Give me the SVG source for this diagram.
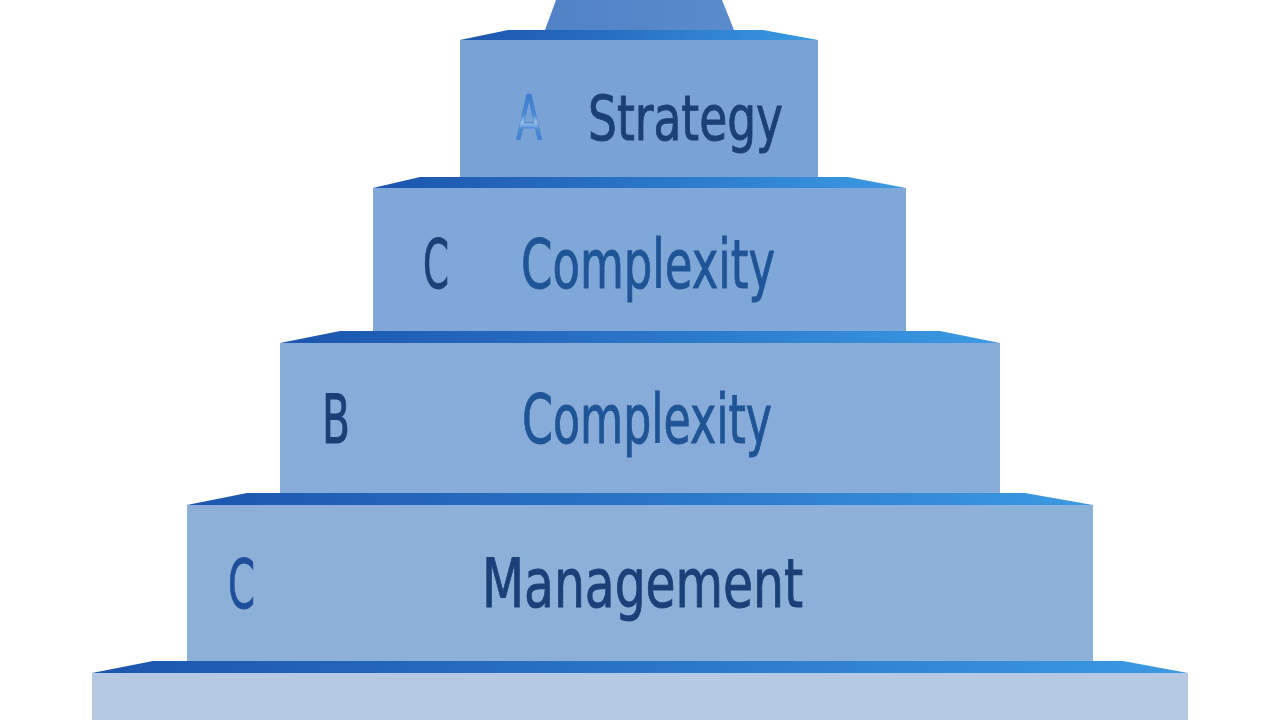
<svg xmlns="http://www.w3.org/2000/svg" width="1280" height="720" viewBox="0 0 1280 720">
  <defs>
    <linearGradient id="strip" x1="0" y1="0" x2="1" y2="0">
      <stop offset="0" stop-color="#1c55ae"/>
      <stop offset="0.5" stop-color="#2a74c6"/>
      <stop offset="1" stop-color="#3b9ae2"/>
    </linearGradient>
    <linearGradient id="peak" x1="0" y1="0" x2="1" y2="0">
      <stop offset="0" stop-color="#5282c6"/>
      <stop offset="1" stop-color="#5a8bcb"/>
    </linearGradient>
    <linearGradient id="letterA" x1="0" y1="0" x2="0" y2="1">
      <stop offset="0" stop-color="#3574cc"/>
      <stop offset="0.45" stop-color="#4c8ad6"/>
      <stop offset="0.55" stop-color="#9fc2ea"/>
      <stop offset="0.65" stop-color="#4c8ad6"/>
      <stop offset="1" stop-color="#3574cc"/>
    </linearGradient>
  </defs>
  <style>
    .strip { fill: url(#strip); }
    .t1 { fill: #79a2d6; }
    .t2 { fill: #7fa7d8; }
    .t3 { fill: #88acd9; }
    .t4 { fill: #8db0d9; }
    .t5 { fill: #b5c9e2; }
    .lbl { font-family: "DejaVu Sans Condensed", "DejaVu Sans", "Liberation Sans Narrow", sans-serif; font-stretch: condensed; fill: #1b4078; stroke: #1b4078; stroke-width: 0.9; }
    .blue { fill: #1f5597; stroke: #1f5597; }
  </style>
  <rect width="1280" height="720" fill="#ffffff"/>

  <g id="peak-top">
    <polygon points="556,0 722,0 734,30 545,30" fill="url(#peak)"/>
  </g>

  <g id="tier-strategy">
    <polygon class="strip" points="508,30 763,30 818,40 460,40"/>
    <rect class="t1" x="460" y="40" width="358" height="138"/>
    <text class="lbl" x="516" y="140" font-size="62" textLength="26" lengthAdjust="spacingAndGlyphs" style="fill:url(#letterA);stroke:#3a7acd;stroke-width:0.6">A</text>
    <text class="lbl" x="588" y="140" font-size="62" textLength="195" lengthAdjust="spacingAndGlyphs">Strategy</text>
  </g>

  <g id="tier-complexity-c">
    <polygon class="strip" points="420,177 848,177 906,188 373,188"/>
    <rect class="t2" x="373" y="188" width="533" height="144"/>
    <text class="lbl" x="423" y="288" font-size="68" textLength="26" lengthAdjust="spacingAndGlyphs">C</text>
    <text class="lbl blue" x="521" y="288" font-size="68" textLength="254" lengthAdjust="spacingAndGlyphs">Complexity</text>
  </g>

  <g id="tier-complexity-b">
    <polygon class="strip" points="340,331 940,331 1000,343 280,343"/>
    <rect class="t3" x="280" y="343" width="720" height="151"/>
    <text class="lbl" x="322" y="443" font-size="68" textLength="28" lengthAdjust="spacingAndGlyphs">B</text>
    <text class="lbl blue" x="522" y="443" font-size="68" textLength="250" lengthAdjust="spacingAndGlyphs">Complexity</text>
  </g>

  <g id="tier-management">
    <polygon class="strip" points="247,493 1025,493 1093,505 187,505"/>
    <rect class="t4" x="187" y="505" width="906" height="157"/>
    <text class="lbl" x="228" y="608" font-size="68" textLength="27" lengthAdjust="spacingAndGlyphs" style="fill:#1f4f9a;stroke:#1f4f9a">C</text>
    <text class="lbl" x="482" y="607" font-size="68" textLength="321" lengthAdjust="spacingAndGlyphs">Management</text>
  </g>

  <g id="tier-base">
    <polygon class="strip" points="153,661 1123,661 1188,673 92,673"/>
    <rect class="t5" x="92" y="673" width="1096" height="47"/>
  </g>
</svg>
